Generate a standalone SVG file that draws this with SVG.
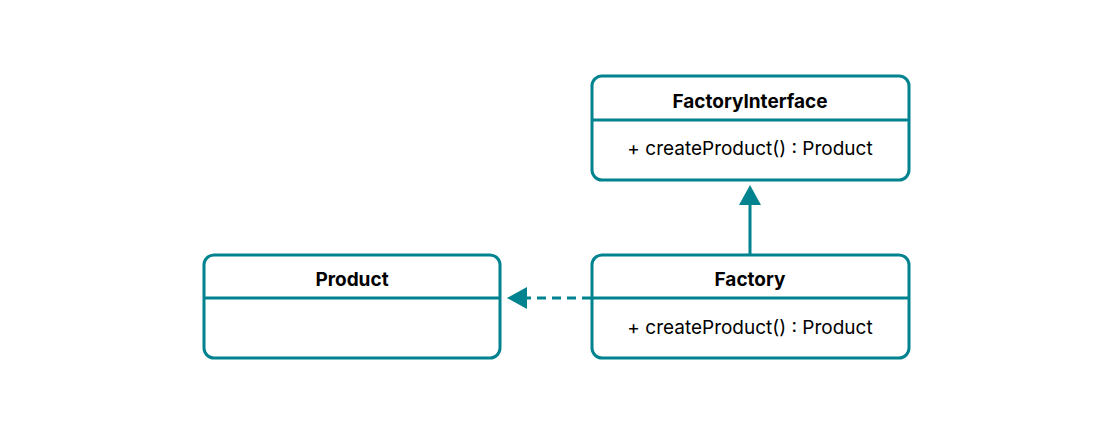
<svg xmlns="http://www.w3.org/2000/svg" width="1113" height="435" viewBox="0 0 1113 435">
<style>
.box{fill:#fff;stroke:#00838F;stroke-width:3}
.div{stroke:#00838F;stroke-width:3}
.t{font-family:Inter,"Noto Sans",sans-serif;font-size:19px;fill:#000;text-anchor:middle}
.b{font-weight:bold}
</style>
<rect width="1113" height="435" fill="#fff"/>
<g id="connectors">
<line x1="750" y1="254" x2="750" y2="204" stroke="#00838F" stroke-width="3"/>
<polygon points="750,185 739,205 761,205" fill="#00838F"/>
<line x1="591" y1="298" x2="526" y2="298" stroke="#00838F" stroke-width="3" stroke-dasharray="9,6"/>
<polygon points="507,298 527,287 527,309" fill="#00838F"/>
</g>
<g id="FactoryInterface">
<rect class="box" x="592" y="76" width="317" height="104" rx="10"/>
<line class="div" x1="592" y1="120" x2="909" y2="120"/>
<text class="t b" x="750" y="108">FactoryInterface</text>
<text class="t" x="750" y="155">+ createProduct() : Product</text>
</g>
<g id="Product">
<rect class="box" x="204" y="255" width="296" height="103" rx="10"/>
<line class="div" x1="204" y1="298" x2="500" y2="298"/>
<text class="t b" x="352" y="286">Product</text>
</g>
<g id="Factory">
<rect class="box" x="592" y="255" width="317" height="103" rx="10"/>
<line class="div" x1="592" y1="298" x2="909" y2="298"/>
<text class="t b" x="750" y="286">Factory</text>
<text class="t" x="750" y="334">+ createProduct() : Product</text>
</g>
</svg>
